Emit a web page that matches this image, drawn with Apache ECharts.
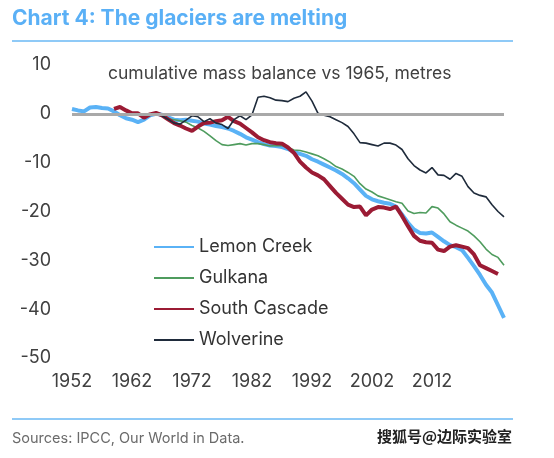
<!DOCTYPE html>
<html>
<head>
<meta charset="utf-8">
<script src="https://cdn.jsdelivr.net/npm/echarts@6/dist/echarts.min.js"></script>
<style>
html, body { margin: 0; padding: 0; background: #fff; }
#glacier-chart { width: 554px; height: 458px; }
</style>
</head>
<body>
<div id="glacier-chart"></div>
<script>
// year categories (x axis)
var years = ['1952','1953','1954','1955','1956','1957','1958','1959','1960','1961',
  '1962','1963','1964','1965','1966','1967','1968','1969','1970','1971',
  '1972','1973','1974','1975','1976','1977','1978','1979','1980','1981',
  '1982','1983','1984','1985','1986','1987','1988','1989','1990','1991',
  '1992','1993','1994','1995','1996','1997','1998','1999','2000','2001',
  '2002','2003','2004','2005','2006','2007','2008','2009','2010','2011',
  '2012','2013','2014','2015','2016','2017','2018','2019','2020','2021',
  '2022','2023','2024'];

// cumulative mass balance, metres
var lemonCreek = [1.0, 0.7, 0.5, 1.3, 1.4, 1.2, 1.1, 0.5, -0.3, -0.9,
  -1.2, -1.7, -1.2, -0.3, 0.0, -0.2, -0.7, -1.2, -1.3, -1.2,
  -1.4, -1.6, -2.0, -2.2, -2.5, -2.7, -3.0, -3.5, -4.1, -4.8,
  -5.3, -5.8, -6.2, -6.5, -6.6, -6.8, -7.2, -7.8, -8.2, -8.6,
  -9.3, -9.8, -10.4, -11.0, -11.6, -12.3, -13.2, -14.2, -15.5, -16.8,
  -17.5, -17.9, -18.2, -18.4, -19.0, -20.6, -22.3, -23.7, -24.4, -24.5,
  -24.3, -25.2, -26.1, -26.9, -27.3, -27.9, -29.5, -31.2, -33.0, -35.0,
  -36.6, -39.2, -41.8];

var gulkana = [null, null, null, null, null, null, null, null, null, null,
  null, null, null, null, 0, -0.4, -1.0, -1.2, -1.4, -1.7,
  -2.4, -2.9, -3.6, -4.5, -5.5, -6.3, -6.5, -6.3, -6.1, -6.4,
  -6.1, -6.1, -6.3, -6.6, -6.5, -6.5, -6.9, -7.4, -7.5, -7.8,
  -8.2, -8.6, -9.2, -9.9, -10.8, -11.3, -12.0, -12.8, -14.3, -15.4,
  -16.0, -16.8, -17.2, -17.6, -18.0, -18.3, -19.9, -20.4, -20.2, -20.3,
  -19.0, -19.3, -20.5, -22.1, -22.8, -23.4, -24.0, -25.0, -26.2, -27.7,
  -28.8, -29.4, -31.0];

var southCascade = [null, null, null, null, null, null, null, 1.0, 1.4, 0.7,
  0.1, 0.1, -0.8, -0.1, 0.2, -0.3, -1.1, -1.9, -2.4, -3.0,
  -3.5, -2.6, -1.9, -1.8, -1.5, -1.3, -0.6, -1.5, -2.0, -2.9,
  -3.8, -4.8, -5.4, -5.8, -6.0, -6.1, -6.9, -8.0, -9.8, -11.0,
  -12.0, -12.6, -13.4, -14.8, -16.2, -17.4, -18.6, -19.1, -19.0, -20.8,
  -19.6, -19.1, -19.2, -19.5, -19.0, -20.9, -23.0, -25.0, -26.0, -26.3,
  -26.4, -27.8, -28.1, -27.2, -26.9, -27.2, -27.5, -28.8, -31.0, -31.6,
  -32.2, -32.8, null];

var wolverine = [null, null, null, null, null, null, null, null, null, null,
  null, null, null, null, 0, -0.4, -1.1, -1.9, -2.1, -1.3,
  -0.4, -0.6, -1.6, -1.0, -1.9, -2.2, -3.0, -1.2, -0.4, -1.2,
  -0.2, 3.4, 3.6, 3.3, 2.8, 2.7, 2.5, 3.2, 3.6, 4.5,
  2.6, 0.1, -0.3, -0.6, -1.2, -1.8, -2.6, -4.1, -5.9, -6.0,
  -6.3, -6.6, -6.0, -6.0, -6.4, -7.3, -9.2, -10.6, -11.5, -12.1,
  -11.0, -12.5, -12.6, -13.4, -12.2, -12.8, -14.9, -16.2, -16.7, -17.0,
  -18.6, -20.0, -21.1];

var seriesNames = ['Lemon Creek', 'Gulkana', 'South Cascade', 'Wolverine'];
var seriesData = [lemonCreek, gulkana, southCascade, wolverine];
var seriesColors = ['#5ab2f6', '#4f9c5e', '#9b1b34', '#1f2b3b'];
var seriesWidths = [4, 1.6, 4, 1.6];

var fontName = 'Inter, "Noto Sans", sans-serif';

var myChart = echarts.init(document.getElementById('glacier-chart'));

var series = [{
  // zero line
  name: 'zero',
  type: 'line',
  data: [],
  silent: true,
  markLine: {
    silent: true,
    symbol: 'none',
    label: { show: false },
    lineStyle: { color: '#a9a9a9', width: 3, type: 'solid' },
    data: [{ yAxis: 0 }]
  }
}];
for (var i = 0; i < seriesNames.length; i++) {
  series.push({
    name: seriesNames[i],
    type: 'line',
    symbol: 'none',
    connectNulls: false,
    color: seriesColors[i],
    lineStyle: { color: seriesColors[i], width: seriesWidths[i] },
    data: seriesData[i]
  });
}

myChart.setOption({
  animation: false,
  title: [
    {
      text: 'Chart 4: The glaciers are melting',
      left: 12, top: 8, padding: 0,
      textStyle: { color: '#5ab0f6', fontSize: 21, fontWeight: 'bold', fontFamily: fontName }
    },
    {
      text: 'cumulative mass balance vs 1965, metres',
      left: 108, top: 65, padding: 0,
      textStyle: { color: '#404040', fontSize: 17.5, fontWeight: 'normal', fontFamily: fontName }
    },
    {
      text: 'Sources: IPCC, Our World in Data.',
      left: 12, top: 431, padding: 0,
      textStyle: { color: '#6b6b6b', fontSize: 14.5, fontWeight: 'normal', fontFamily: fontName }
    },
    {
      text: '搜狐号@边际实验室',
      left: 377, top: 429, padding: 0,
      textStyle: { color: '#222', fontSize: 15, fontWeight: 'bold', fontFamily: '"Noto Sans CJK SC"',
        textBorderColor: '#fff', textBorderWidth: 2 }
    }
  ],
  graphic: [
    { type: 'line', shape: { x1: 12, y1: 41, x2: 513, y2: 41 }, style: { stroke: '#8fcaf7', lineWidth: 2 } },
    { type: 'line', shape: { x1: 12, y1: 419, x2: 513, y2: 419 }, style: { stroke: '#8fcaf7', lineWidth: 2 } }
  ],
  legend: {
    orient: 'vertical',
    left: 153, top: 237, padding: 0,
    itemWidth: 40, itemHeight: 14, itemGap: 11,
    itemStyle: { opacity: 0 },
    data: seriesNames,
    textStyle: { color: '#333', fontSize: 18, lineHeight: 20, fontFamily: fontName }
  },
  grid: { left: 72, right: 50, top: 65, bottom: 100, containLabel: false },
  xAxis: {
    type: 'category',
    boundaryGap: false,
    data: years,
    axisLine: { show: false },
    axisTick: { show: false },
    splitLine: { show: false },
    axisLabel: {
      color: '#404040', fontSize: 18, margin: 15, fontFamily: fontName,
      interval: function (index) { return index % 10 === 0 && index <= 60; }
    }
  },
  yAxis: {
    type: 'value',
    min: -50, max: 10, interval: 10,
    axisLine: { show: false },
    axisTick: { show: false },
    splitLine: { show: false },
    axisLabel: { color: '#404040', fontSize: 18, margin: 21, fontFamily: fontName }
  },
  series: series
});
</script>
</body>
</html>
